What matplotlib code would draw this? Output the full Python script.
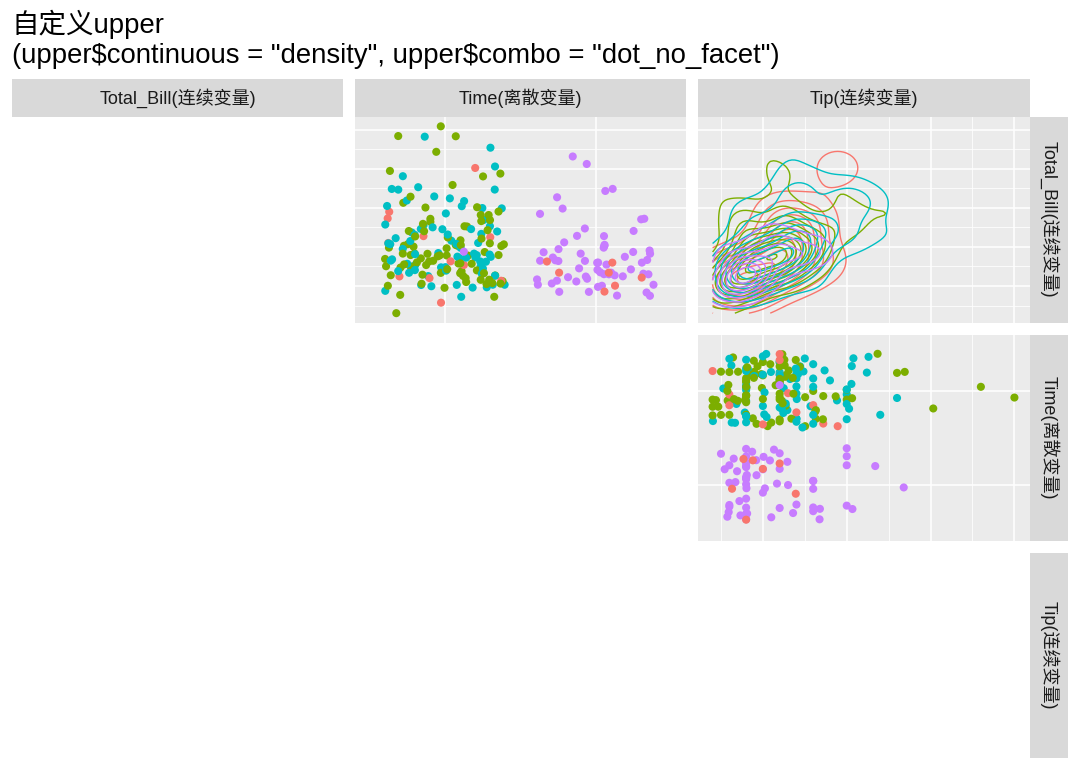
import numpy as np
import matplotlib.pyplot as plt

plt.rcParams['font.family'] = ['Liberation Sans', 'Noto Sans CJK SC', 'DejaVu Sans']

# tips data (reshape2::tips)
total_bill = [
    16.99, 10.34, 21.01, 23.68, 24.59, 25.29, 8.77, 26.88, 15.04, 14.78,
    10.27, 35.26, 15.42, 18.43, 14.83, 21.58, 10.33, 16.29, 16.97, 20.65,
    17.92, 20.29, 15.77, 39.42, 19.82, 17.81, 13.37, 12.69, 21.70, 19.65,
    9.55, 18.35, 15.06, 20.69, 17.78, 24.06, 16.31, 16.93, 18.69, 31.27,
    16.04, 17.46, 13.94, 9.68, 30.40, 18.29, 22.23, 32.40, 28.55, 18.04,
    12.54, 10.29, 34.81, 9.94, 25.56, 19.49, 38.01, 26.41, 11.24, 48.27,
    20.29, 13.81, 11.02, 18.29, 17.59, 20.08, 16.45, 3.07, 20.23, 15.01,
    12.02, 17.07, 26.86, 25.28, 14.73, 10.51, 17.92, 27.20, 22.76, 17.29,
    19.44, 16.66, 10.07, 32.68, 15.98, 34.83, 13.03, 18.28, 24.71, 21.16,
    28.97, 22.49, 5.75, 16.32, 22.75, 40.17, 27.28, 12.03, 21.01, 12.46,
    11.35, 15.38, 44.30, 22.42, 20.92, 15.36, 20.49, 25.21, 18.24, 14.31,
    14.00, 7.25, 38.07, 23.95, 25.71, 17.31, 29.93, 10.65, 12.43, 24.08,
    11.69, 13.42, 14.26, 15.95, 12.48, 29.80, 8.52, 14.52, 11.38, 22.82,
    19.08, 20.27, 11.17, 12.26, 18.26, 8.51, 10.33, 14.15, 16.00, 13.16,
    17.47, 34.30, 41.19, 27.05, 16.43, 8.35, 18.64, 11.87, 9.78, 7.51,
    14.07, 13.13, 17.26, 24.55, 19.77, 29.85, 48.17, 25.00, 13.39, 16.49,
    21.50, 12.66, 16.21, 13.81, 17.51, 24.52, 20.76, 31.71, 10.59, 10.63,
    50.81, 15.81, 7.25, 31.85, 16.82, 32.90, 17.89, 14.48, 9.60, 34.63,
    34.65, 23.33, 45.35, 23.17, 40.55, 20.69, 20.90, 30.46, 18.15, 23.10,
    15.69, 19.81, 28.44, 15.48, 16.58, 7.56, 10.34, 43.11, 13.00, 13.51,
    18.71, 12.74, 13.00, 16.40, 20.53, 16.47, 26.59, 38.73, 24.27, 12.76,
    30.06, 25.89, 48.33, 13.27, 28.17, 12.90, 28.15, 11.59, 7.74, 30.14,
    12.16, 13.42, 8.58, 15.98, 13.42, 16.27, 10.09, 20.45, 13.28, 22.12,
    24.01, 15.69, 11.61, 10.77, 15.53, 10.07, 12.60, 32.83, 35.83, 29.03,
    27.18, 22.67, 17.82, 18.78]

tip = [
    1.01, 1.66, 3.50, 3.31, 3.61, 4.71, 2.00, 3.12, 1.96, 3.23,
    1.71, 5.00, 1.57, 3.00, 3.02, 3.92, 1.67, 3.71, 3.50, 3.35,
    4.08, 2.75, 2.23, 7.58, 3.18, 2.34, 2.00, 2.00, 4.30, 3.00,
    1.45, 2.50, 3.00, 2.45, 3.27, 3.60, 2.00, 3.07, 2.31, 5.00,
    2.24, 2.54, 3.06, 1.32, 5.60, 3.00, 5.00, 6.00, 2.05, 3.00,
    2.50, 2.60, 5.20, 1.56, 4.34, 3.51, 3.00, 1.50, 1.76, 6.73,
    3.21, 2.00, 1.98, 3.76, 2.64, 3.15, 2.47, 1.00, 2.01, 2.09,
    1.97, 3.00, 3.14, 5.00, 2.20, 1.25, 3.08, 4.00, 3.00, 2.71,
    3.00, 3.40, 1.83, 5.00, 2.03, 5.17, 2.00, 4.00, 5.85, 3.00,
    3.00, 3.50, 1.00, 4.30, 3.25, 4.73, 4.00, 1.50, 3.00, 1.50,
    2.50, 3.00, 2.50, 3.48, 4.08, 1.64, 4.06, 4.29, 3.76, 4.00,
    3.00, 1.00, 4.00, 2.55, 4.00, 3.50, 5.07, 1.50, 1.80, 2.92,
    2.31, 1.68, 2.50, 2.00, 2.52, 4.20, 1.48, 2.00, 2.00, 2.18,
    1.50, 2.83, 1.50, 2.00, 3.25, 1.25, 2.00, 2.00, 2.00, 2.75,
    3.50, 6.70, 5.00, 5.00, 2.30, 1.50, 1.36, 1.63, 1.73, 2.00,
    2.50, 2.00, 2.74, 2.00, 2.00, 5.14, 5.00, 3.75, 2.61, 2.00,
    3.50, 2.50, 2.00, 2.00, 3.00, 3.48, 2.24, 4.50, 1.61, 2.00,
    10.00, 3.16, 5.15, 3.18, 4.00, 3.11, 2.00, 2.00, 4.00, 3.55,
    3.68, 5.65, 3.50, 6.50, 3.00, 5.00, 3.50, 2.00, 3.50, 4.00,
    1.50, 4.19, 2.56, 2.02, 4.00, 1.44, 2.00, 5.00, 2.00, 2.00,
    4.00, 2.01, 2.00, 2.50, 4.00, 3.23, 3.41, 3.00, 2.03, 2.23,
    2.00, 5.16, 9.00, 2.50, 6.50, 1.10, 3.00, 1.50, 1.44, 3.09,
    2.20, 3.48, 1.92, 3.00, 1.58, 2.50, 2.00, 3.00, 2.72, 2.88,
    2.00, 3.00, 3.39, 1.47, 3.00, 1.25, 1.00, 1.17, 4.67, 5.92,
    2.00, 2.00, 1.75, 3.00]

# day / time in row order, as runs
day_time_runs = [
    ("Sun", "Dinner", 19), ("Sat", "Dinner", 22), ("Sun", "Dinner", 15),
    ("Sat", "Dinner", 21), ("Thur", "Lunch", 13), ("Fri", "Dinner", 12),
    ("Sat", "Dinner", 10), ("Sun", "Dinner", 5), ("Thur", "Lunch", 33),
    ("Sun", "Dinner", 18), ("Sat", "Dinner", 4), ("Sun", "Dinner", 19),
    ("Thur", "Lunch", 15), ("Sat", "Dinner", 14), ("Fri", "Lunch", 7),
    ("Sat", "Dinner", 16), ("Thur", "Dinner", 1)]

day_levels = ["Fri", "Sat", "Sun", "Thur"]
time_levels = ["Dinner", "Lunch"]
day_colors = {"Fri": "#F8766D", "Sat": "#7CAE00", "Sun": "#00BFC4", "Thur": "#C77CFF"}

strip_labels = ["Total_Bill(连续变量)", "Time(离散变量)", "Tip(连续变量)"]
title1 = "自定义upper"
title2 = '(upper$continuous = "density", upper$combo = "dot_no_facet")'

day = []
time = []
for d, t, n in day_time_runs:
    day += [d] * n
    time += [t] * n
total_bill = np.array(total_bill)
tip = np.array(tip)
day = np.array(day)
time = np.array(time)
pt_colors = [day_colors[d] for d in day]

W, H = 1080, 771
fig = plt.figure(figsize=(W / 100, H / 100), dpi=100)


def rect(x0, y0, x1, y1):
    return [x0 / W, 1 - y1 / H, (x1 - x0) / W, (y1 - y0) / H]


cols = [(12, 343), (354.5, 686), (697.5, 1029.5)]
rows = [(117, 322.5), (335, 541), (552.5, 758)]
strip_col = "#D9D9D9"
panel_bg = "#EBEBEB"


def expand(lo, hi):
    d = (hi - lo) * 0.05
    return lo - d, hi + d


bill_lim = expand(total_bill.min(), total_bill.max())
tip_lim = expand(tip.min(), tip.max())
disc_lim = (0.4, 2.6)


def style_panel(ax, xmaj, xmin, ymaj, ymin):
    ax.set_facecolor(panel_bg)
    for s in ax.spines.values():
        s.set_visible(False)
    ax.set_xticks(xmaj)
    ax.set_xticks(xmin, minor=True)
    ax.set_yticks(ymaj)
    ax.set_yticks(ymin, minor=True)
    ax.grid(which="major", color="white", lw=1.1)
    ax.grid(which="minor", color="white", lw=0.55)
    ax.tick_params(which="both", length=0, labelleft=False, labelbottom=False)
    ax.set_axisbelow(True)


bill_major = [10, 20, 30, 40, 50]
bill_minor = [5, 15, 25, 35, 45]
tip_major = [2.5, 5, 7.5, 10]
tip_minor = [1.25, 3.75, 6.25, 8.75]

# jitter as in geom_jitter (40% of the discrete resolution)
rng = np.random.default_rng(7)
jit = rng.uniform(-0.4, 0.4, len(tip))
jit2 = rng.uniform(-0.4, 0.4, len(tip))

# panel (1,2): time vs total_bill
ax = fig.add_axes(rect(cols[1][0], rows[0][0], cols[1][1], rows[0][1]))
tpos = np.array([1 if t == "Dinner" else 2 for t in time])
ax.scatter(tpos + jit, total_bill, s=34, c=pt_colors, linewidths=0)
ax.set_xlim(disc_lim)
ax.set_ylim(bill_lim)
style_panel(ax, [1, 2], [], bill_major, bill_minor)

# panel (1,3): density of tip vs total_bill by day


def bw_nrd(x):
    q = np.quantile(x, [0.25, 0.75])
    h = (q[1] - q[0]) / 1.34
    return 4 * 1.06 * min(np.std(x, ddof=1), h) * len(x) ** (-0.2)


def kde2d(x, y, lims, n=100):
    hx = bw_nrd(x) / 4
    hy = bw_nrd(y) / 4
    gx = np.linspace(lims[0], lims[1], n)
    gy = np.linspace(lims[2], lims[3], n)
    ax_ = (gx[:, None] - x[None, :]) / hx
    ay_ = (gy[:, None] - y[None, :]) / hy
    kx = np.exp(-0.5 * ax_ ** 2) / np.sqrt(2 * np.pi)
    ky = np.exp(-0.5 * ay_ ** 2) / np.sqrt(2 * np.pi)
    z = kx @ ky.T / (len(x) * hx * hy)
    return gx, gy, z


def pretty_levels(lo, hi, n=10):
    # like R's pretty(range(z), 10)
    cell = (hi - lo) / n
    U = 10 ** np.floor(np.log10(cell))
    unit = U
    if 2 * U - cell < 1.5 * (cell - unit):
        unit = 2 * U
        if 5 * U - cell < 2.75 * (cell - unit):
            unit = 5 * U
            if 10 * U - cell < 1.5 * (cell - unit):
                unit = 10 * U
    k0 = np.floor(lo / unit)
    k1 = np.ceil(hi / unit)
    lv = np.arange(k0, k1 + 1) * unit
    return lv[(lv > lo) & (lv < hi)]


lims = [tip.min(), tip.max(), total_bill.min(), total_bill.max()]

ax = fig.add_axes(rect(cols[2][0], rows[0][0], cols[2][1], rows[0][1]))
for d in day_levels:
    m = day == d
    gx, gy, z = kde2d(tip[m], total_bill[m], lims)
    levels = pretty_levels(z.min(), z.max())
    ax.contour(gx, gy, z.T, levels=levels, colors=[day_colors[d]], linewidths=1.0)
ax.set_xlim(tip_lim)
ax.set_ylim(bill_lim)
style_panel(ax, tip_major, tip_minor, bill_major, bill_minor)

# panel (2,3): tip vs time
ax = fig.add_axes(rect(cols[2][0], rows[1][0], cols[2][1], rows[1][1]))
ypos = np.array([2 if t == "Dinner" else 1 for t in time])
ax.scatter(tip, ypos + jit2, s=34, c=pt_colors, linewidths=0)
ax.set_xlim(tip_lim)
ax.set_ylim(disc_lim)
style_panel(ax, tip_major, tip_minor, [1, 2], [])

# strips
for i, (x0, x1) in enumerate(cols):
    sa = fig.add_axes(rect(x0, 79, x1, 117))
    sa.set_facecolor(strip_col)
    sa.set_xticks([])
    sa.set_yticks([])
    for s in sa.spines.values():
        s.set_visible(False)
    sa.text(0.5, 0.5, strip_labels[i], ha="center", va="center",
            fontsize=13, color="#1A1A1A", transform=sa.transAxes)
for i, (y0, y1) in enumerate(rows):
    sa = fig.add_axes(rect(1030, y0, 1068, y1))
    sa.set_facecolor(strip_col)
    sa.set_xticks([])
    sa.set_yticks([])
    for s in sa.spines.values():
        s.set_visible(False)
    sa.text(0.5, 0.5, strip_labels[i], ha="center", va="center", rotation=270,
            fontsize=13, color="#1A1A1A", transform=sa.transAxes)

fig.text(12 / W, 1 - 33 / H, title1, fontsize=19.8, va="baseline", ha="left")
fig.text(12 / W, 1 - 63 / H, title2, fontsize=19.8, va="baseline", ha="left",
         parse_math=False)

fig.savefig("out.png", dpi=100)
